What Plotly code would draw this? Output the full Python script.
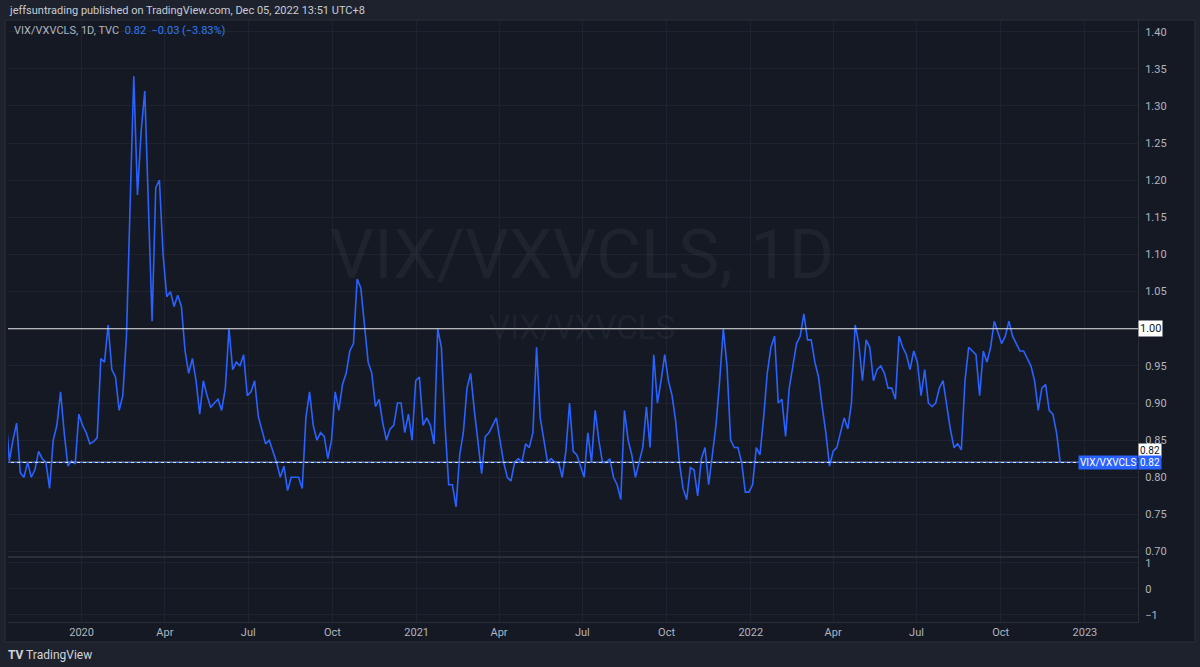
import pandas as pd
import plotly.graph_objects as go

# ---------------- data ----------------
START_DATE = "2019-10-10"
STEP = "4D"
ratio_values = [
    0.89, 0.822, 0.85, 0.873, 0.806, 0.80, 0.82, 0.80, 0.81, 0.835,
    0.825, 0.82, 0.785, 0.85, 0.87, 0.915, 0.86, 0.815, 0.822, 0.818,
    0.885, 0.87, 0.86, 0.845, 0.848, 0.853, 0.96, 0.955, 1.005, 0.945,
    0.935, 0.89, 0.91, 0.99, 1.167, 1.34, 1.18, 1.265, 1.32, 1.15,
    1.01, 1.19, 1.2, 1.1, 1.043, 1.05, 1.03, 1.045, 1.03, 0.97,
    0.94, 0.96, 0.93, 0.885, 0.93, 0.91, 0.894, 0.90, 0.905, 0.89,
    0.92, 1.0, 0.945, 0.955, 0.95, 0.965, 0.91, 0.915, 0.93, 0.882,
    0.864, 0.845, 0.85, 0.835, 0.82, 0.80, 0.815, 0.782, 0.80, 0.80,
    0.80, 0.785, 0.88, 0.915, 0.87, 0.85, 0.86, 0.855, 0.825, 0.85,
    0.915, 0.89, 0.925, 0.94, 0.97, 0.98, 1.067, 1.055, 1.0, 0.955,
    0.94, 0.895, 0.905, 0.873, 0.85, 0.865, 0.87, 0.90, 0.90, 0.86,
    0.885, 0.85, 0.93, 0.935, 0.87, 0.88, 0.87, 0.845, 1.0, 0.975,
    0.87, 0.79, 0.79, 0.76, 0.83, 0.86, 0.92, 0.94, 0.89, 0.85,
    0.805, 0.855, 0.86, 0.87, 0.88, 0.85, 0.82, 0.80, 0.795, 0.82,
    0.825, 0.82, 0.845, 0.84, 0.86, 0.975, 0.88, 0.85, 0.82, 0.825,
    0.82, 0.82, 0.80, 0.835, 0.90, 0.835, 0.83, 0.815, 0.80, 0.86,
    0.82, 0.89, 0.85, 0.82, 0.82, 0.825, 0.80, 0.79, 0.77, 0.89,
    0.85, 0.83, 0.80, 0.82, 0.84, 0.895, 0.84, 0.965, 0.90, 0.93,
    0.965, 0.93, 0.91, 0.875, 0.82, 0.785, 0.77, 0.813, 0.81, 0.775,
    0.825, 0.84, 0.79, 0.83, 0.87, 0.93, 1.0, 0.95, 0.85, 0.84,
    0.84, 0.82, 0.78, 0.78, 0.79, 0.84, 0.83, 0.88, 0.94, 0.975,
    0.99, 0.90, 0.905, 0.855, 0.92, 0.95, 0.98, 0.99, 1.02, 0.985,
    0.985, 0.955, 0.935, 0.895, 0.86, 0.815, 0.835, 0.84, 0.86, 0.88,
    0.865, 0.90, 1.005, 0.98, 0.93, 0.985, 0.975, 0.93, 0.945, 0.95,
    0.94, 0.92, 0.92, 0.905, 0.99, 0.975, 0.965, 0.945, 0.97, 0.955,
    0.91, 0.945, 0.90, 0.895, 0.90, 0.92, 0.93, 0.895, 0.865, 0.84,
    0.845, 0.837, 0.93, 0.975, 0.97, 0.965, 0.91, 0.97, 0.955, 0.975,
    1.01, 0.995, 0.98, 0.99, 1.01, 0.99, 0.98, 0.97, 0.97, 0.96,
    0.95, 0.93, 0.89, 0.92, 0.925, 0.89, 0.885, 0.86, 0.82,
]
dates = pd.date_range(START_DATE, periods=len(ratio_values), freq=STEP)

date_tick_vals = ["2020-01-01", "2020-04-01", "2020-07-01", "2020-10-01",
                  "2021-01-01", "2021-04-01", "2021-07-01", "2021-10-01",
                  "2022-01-01", "2022-04-01", "2022-07-01", "2022-10-01",
                  "2023-01-01"]
date_tick_text = ["2020", "Apr", "Jul", "Oct", "2021", "Apr", "Jul", "Oct",
                  "2022", "Apr", "Jul", "Oct", "2023"]
price_grid = [0.70, 0.75, 0.80, 0.85, 0.90, 0.95, 1.00, 1.05, 1.10,
              1.15, 1.20, 1.25, 1.30, 1.35, 1.40]
price_labels = [0.70, 0.75, 0.80, 0.85, 0.90, 0.95, 1.05, 1.10,
                1.15, 1.20, 1.25, 1.30, 1.35, 1.40]
lower_ticks = [-1, 0, 1]
level_lines = [1.00, 0.82]
last_value = 0.82
change_text = "0.82  \u22120.03 (\u22123.83%)"
symbol = "VIX/VXVCLS"

# ---------------- styling ----------------
W, H = 1200, 667
L, R, T, B = 8, 1138, 20, 622          # plot area in pixels
PANE_SPLIT = 556                        # bottom of main pane
LOWER_TOP = 558


def px(xp):
    return (xp - L) / (R - L)


def py(yp):
    return (B - yp) / (B - T)


BG_OUT = "#1e222d"
BG_PANE = "#151924"
GRID = "#1f2330"
SEP = "#2a2e39"
TXT = "#b2b5be"
BLUE = "#2962ff"
FONT = "Roboto, Liberation Sans, sans-serif"

x_range = ["2019-10-12 14:00", "2023-02-28"]
main_lo, main_hi = 0.694, 1.4157

fig = go.Figure()
# invisible helpers so every axis is drawn
fig.add_trace(go.Scatter(x=[dates[0]], y=[main_lo], mode="lines",
                         line=dict(width=0), opacity=0,
                         xaxis="x", yaxis="y3", hoverinfo="skip",
                         showlegend=False))
fig.add_trace(go.Scatter(x=[dates[0]], y=[0], mode="lines",
                         line=dict(width=0), opacity=0,
                         xaxis="x2", yaxis="y2", hoverinfo="skip",
                         showlegend=False))
# the ratio line
fig.add_trace(go.Scatter(x=dates, y=ratio_values, mode="lines",
                         line=dict(color=BLUE, width=1.6),
                         xaxis="x", yaxis="y", hoverinfo="skip",
                         showlegend=False))

fig.update_layout(
    width=W, height=H,
    margin=dict(l=L, r=W - R, t=T, b=H - B),
    paper_bgcolor=BG_OUT,
    plot_bgcolor="rgba(0,0,0,0)",
    font=dict(family=FONT, size=11, color=TXT),
    showlegend=False,
    xaxis=dict(domain=[0, 1], anchor="y", range=x_range, type="date",
               tickvals=date_tick_vals, showticklabels=False,
               showgrid=True, gridcolor=GRID, gridwidth=1, zeroline=False,
               showline=True, linecolor=SEP, linewidth=2, mirror=False),
    xaxis2=dict(domain=[0, 1], anchor="y2", range=x_range, type="date",
                tickvals=date_tick_vals, ticktext=date_tick_text,
                showgrid=True, gridcolor=GRID, gridwidth=1, zeroline=False,
                showline=True, linecolor=SEP, linewidth=1, ticks="",
                tickfont=dict(size=11, color=TXT)),
    yaxis=dict(domain=[py(PANE_SPLIT), 1], anchor="x", side="right",
               range=[main_lo, main_hi], showgrid=False,
               tickvals=price_labels, tickformat=".2f",
               zeroline=False, showline=True, linecolor=SEP, linewidth=1,
               ticks="", ticklabelstandoff=4,
               tickfont=dict(size=11, color=TXT)),
    yaxis3=dict(domain=[py(PANE_SPLIT), 1], anchor="x", overlaying="y",
                side="right", range=[main_lo, main_hi], tickvals=price_grid,
                showticklabels=False, showgrid=True, gridcolor=GRID,
                zeroline=False, showline=False, ticks=""),
    yaxis2=dict(domain=[0, py(LOWER_TOP)], anchor="x2", side="right",
                range=[-1.27, 1.19], tickvals=lower_ticks,
                tickformat="d", showgrid=True, gridcolor=GRID,
                zeroline=False, showline=True, linecolor=SEP, linewidth=1,
                ticks="", ticklabelstandoff=4,
                tickfont=dict(size=11, color=TXT)),
)

shapes = [
    dict(type="rect", xref="paper", yref="paper", x0=px(5), x1=px(1195),
         y0=py(642), y1=py(20), fillcolor=BG_PANE,
         line=dict(color=SEP, width=1), layer="below"),
]
for lv in level_lines:
    shapes.append(dict(type="line", xref="paper", yref="y", x0=0, x1=1,
                       y0=lv, y1=lv, line=dict(color="#e6e6e6", width=1.2),
                       layer="above"))
shapes.append(dict(type="line", xref="paper", yref="y", x0=0, x1=1,
                   y0=last_value, y1=last_value,
                   line=dict(color=BLUE, width=1, dash="dot"), layer="above"))
fig.update_layout(shapes=shapes)

ann = []
ann.append(dict(xref="paper", yref="paper", x=px(7), y=py(10),
                xanchor="left", yanchor="middle", showarrow=False,
                text="jeffsuntrading published on TradingView.com, Dec 05, 2022 13:51 UTC+8",
                font=dict(size=11, color="#c9ccd4")))
ann.append(dict(xref="paper", yref="paper", x=px(12), y=py(30),
                xanchor="left", yanchor="middle", showarrow=False,
                text=f"{symbol}, 1D, TVC  <span style='color:#3179f5'>{change_text}</span>",
                font=dict(size=11, color=TXT)))
ann.append(dict(xref="paper", yref="paper", x=px(582), y=py(255),
                xanchor="center", yanchor="middle", showarrow=False,
                text=f"{symbol}, 1D",
                font=dict(size=69, color="rgba(120,125,140,0.10)")))
ann.append(dict(xref="paper", yref="paper", x=px(582), y=py(327),
                xanchor="center", yanchor="middle", showarrow=False,
                text=symbol,
                font=dict(size=33, color="rgba(120,125,140,0.10)")))
ann.append(dict(xref="paper", yref="y", x=1, y=1.00, xanchor="left",
                yanchor="middle", showarrow=False, text="1.00",
                bgcolor="#ffffff", borderpad=1,
                font=dict(size=11, color="#131722")))
ann.append(dict(xref="paper", yref="y", x=1, y=last_value, yshift=12,
                xanchor="left", yanchor="middle", showarrow=False,
                text=f"{last_value:.2f}", bgcolor="#ffffff", borderpad=1,
                font=dict(size=10, color="#131722")))
ann.append(dict(xref="paper", yref="y", x=1, y=last_value, xanchor="left",
                yanchor="middle", showarrow=False, text=f"{last_value:.2f}",
                bgcolor=BLUE, borderpad=1,
                font=dict(size=10, color="#ffffff")))
ann.append(dict(xref="paper", yref="y", x=1, y=last_value, xanchor="right",
                yanchor="middle", showarrow=False, text=symbol,
                bgcolor=BLUE, borderpad=1,
                font=dict(size=10, color="#ffffff")))
ann.append(dict(xref="paper", yref="paper", x=px(6), y=py(655),
                xanchor="left", yanchor="middle", showarrow=False,
                text="<b>TV</b> TradingView",
                font=dict(size=12, color="#d1d4dc")))
fig.update_layout(annotations=ann)

fig.write_html(
    "out.html",
    config={"displayModeBar": False},
    post_script="document.body.style.margin='0';document.body.style.overflow='hidden';",
)
